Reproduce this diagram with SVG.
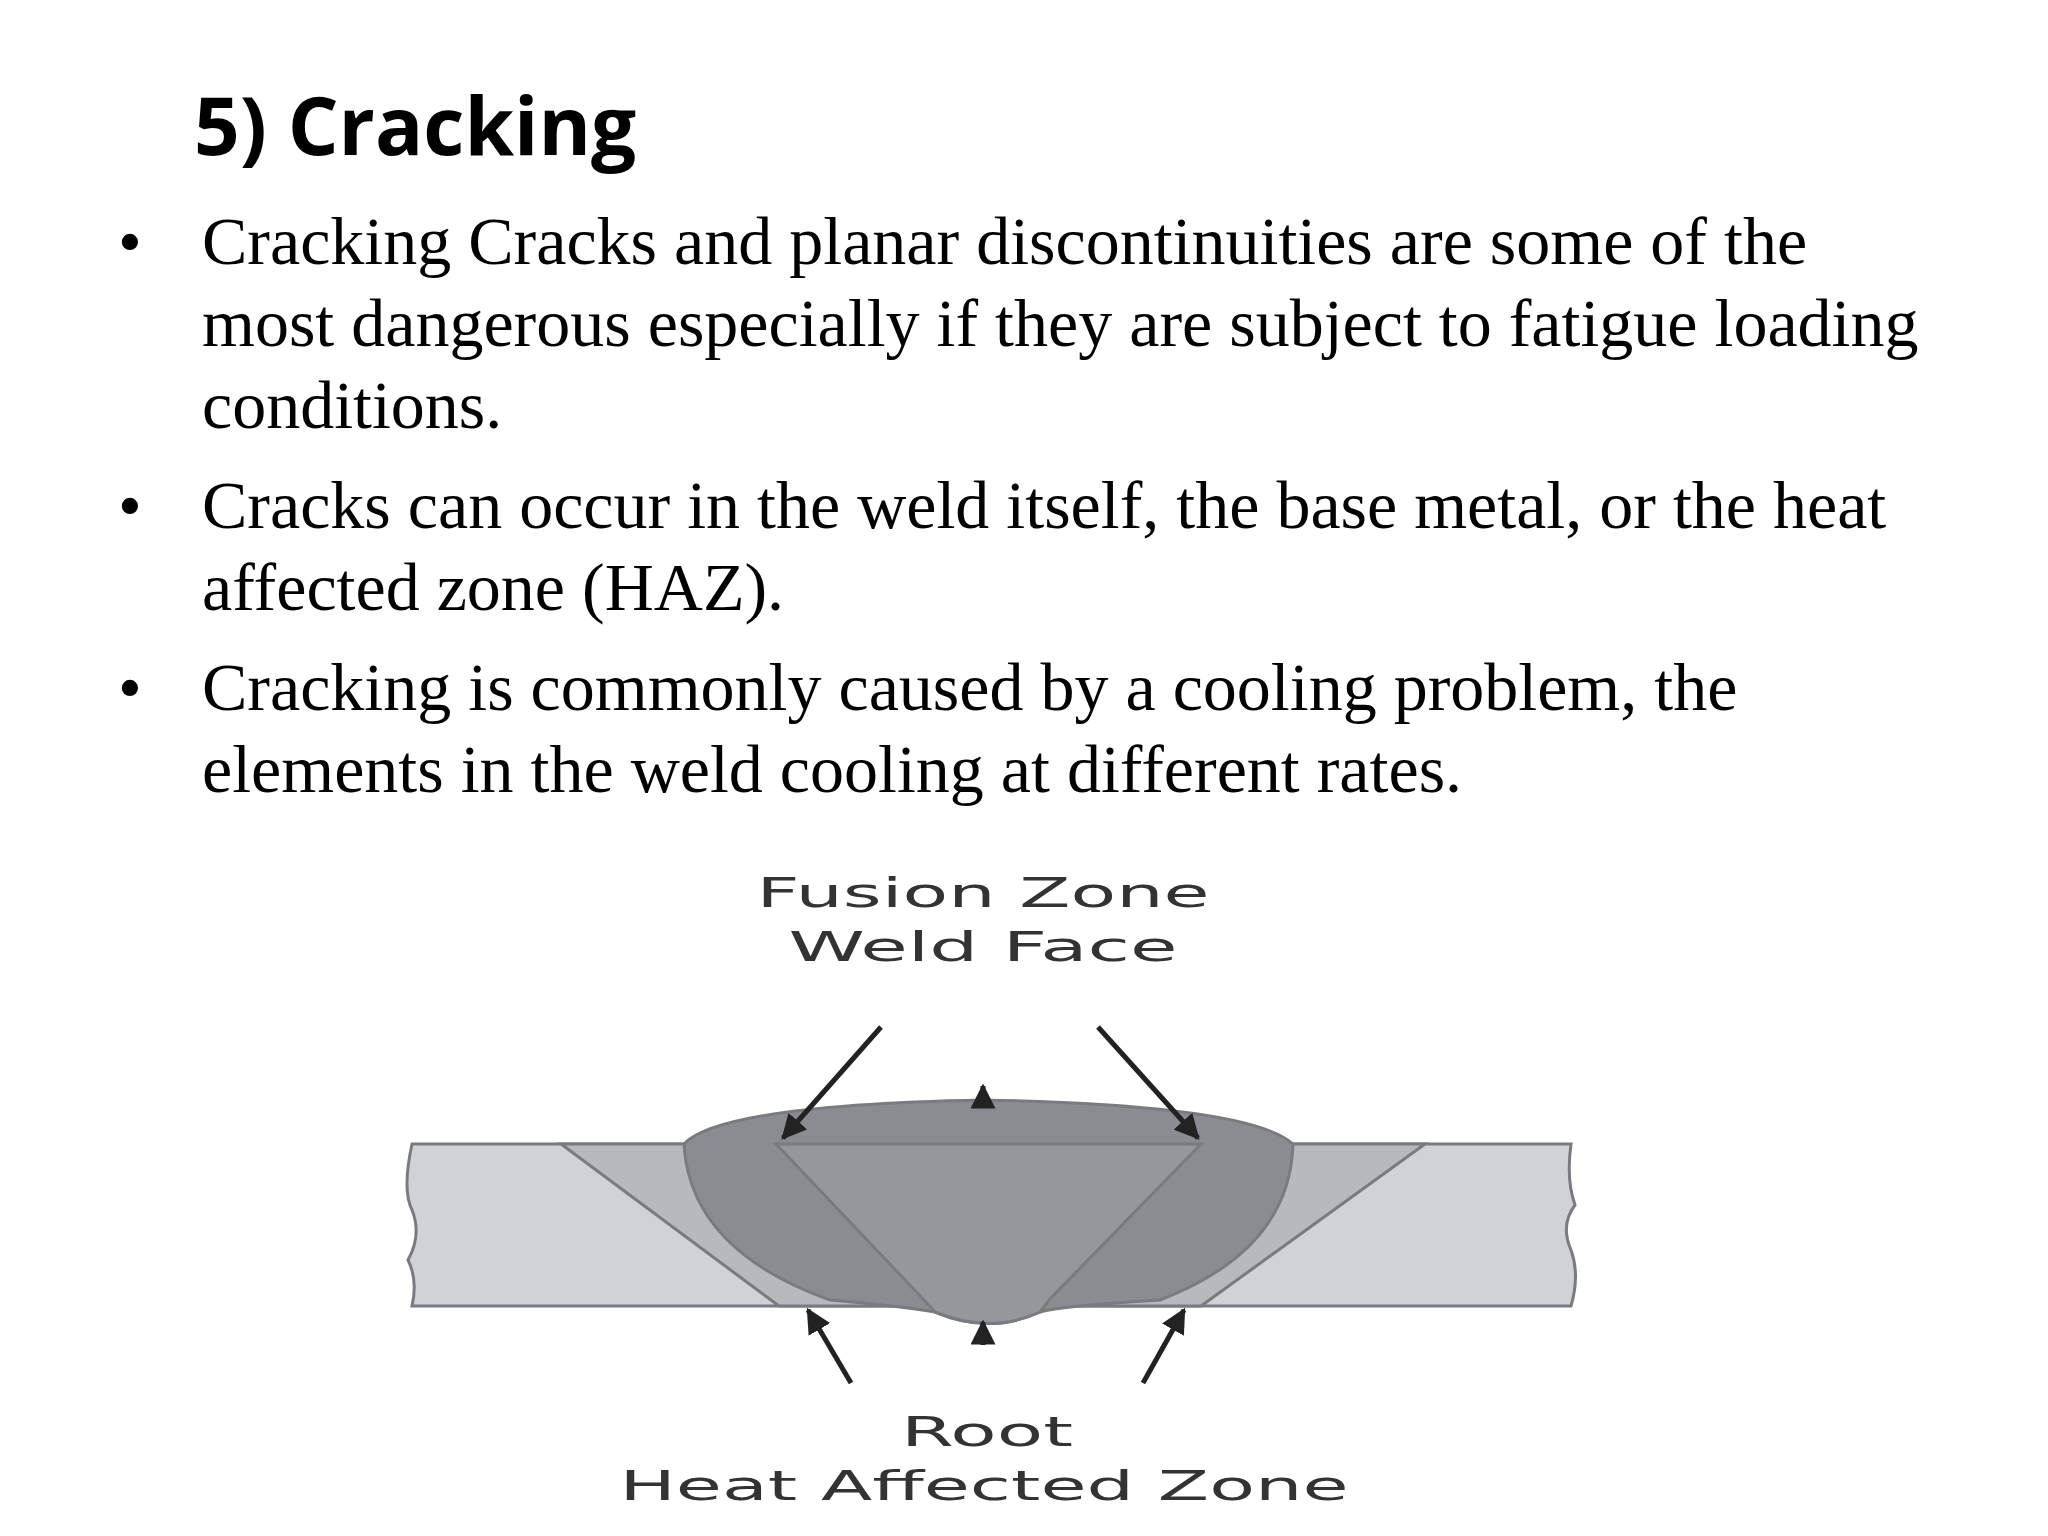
<svg xmlns="http://www.w3.org/2000/svg" width="2048" height="1536" viewBox="0 0 2048 1536">
<defs>
<style>
.t{font-family:"Liberation Serif",serif;font-size:68px;fill:#000}
.l{font-family:"DejaVu Sans",sans-serif;font-size:40px;fill:#333;text-anchor:middle}
.ln{stroke:#222;stroke-width:5;fill:none}
.o{stroke:#7a7b7f;stroke-width:3}
</style>
<marker id="ah" viewBox="0 0 10 10" refX="9" refY="5" markerWidth="5" markerHeight="5" orient="auto"><path d="M0,0L10,5L0,10z" fill="#222"/></marker>
</defs>
<rect width="2048" height="1536" fill="#fff"/>
<g id="title"><text x="194" y="155" font-family="Open Sans,Liberation Sans,sans-serif" font-weight="bold" font-size="80">5) Cracking</text></g>
<g id="bullets">
<text class="t" x="118" y="264">•</text>
<text class="t" x="202" y="264">Cracking Cracks and planar discontinuities are some of the</text>
<text class="t" x="202" y="346">most dangerous especially if they are subject to fatigue loading</text>
<text class="t" x="202" y="428">conditions.</text>
<text class="t" x="118" y="528">•</text>
<text class="t" x="202" y="528">Cracks can occur in the weld itself, the base metal, or the heat</text>
<text class="t" x="202" y="610">affected zone (HAZ).</text>
<text class="t" x="118" y="710">•</text>
<text class="t" x="202" y="710">Cracking is commonly caused by a cooling problem, the</text>
<text class="t" x="202" y="792">elements in the weld cooling at different rates.</text>
</g>
<g id="plate">
<path class="o" d="M412,1144 L1571,1144 Q1566,1180 1575,1205 Q1560,1225 1571,1250 Q1580,1275 1571,1306 L412,1306 Q418,1280 408,1260 Q422,1235 412,1210 Q402,1190 412,1144Z" fill="#d1d2d5"/>
<path class="o" d="M561,1144 L1425,1144 L1201,1306 L779,1306Z" fill="#b8b9bd"/>
<path class="o" d="M684,1144 Q720,1105 983,1100 Q1250,1105 1293,1144 Q1290,1250 1160,1300 Q1060,1306 1040,1312 Q990,1335 935,1312 Q900,1306 830,1300 Q690,1250 684,1144Z" fill="#8b8c91"/>
<path class="o" d="M776,1144 L1201,1144 L1049,1300 Q1045,1306 1040,1312 Q990,1335 935,1312 L924,1300Z" fill="#96979b"/>
</g>
<g id="connectors">
<line class="ln" x1="881" y1="1027" x2="783" y2="1138" marker-end="url(#ah)"/>
<line class="ln" x1="1098" y1="1027" x2="1198" y2="1138" marker-end="url(#ah)"/>
<line class="ln" x1="983" y1="1108" x2="983" y2="1086" marker-end="url(#ah)"/>
<line class="ln" x1="851" y1="1383" x2="808" y2="1310" marker-end="url(#ah)"/>
<line class="ln" x1="983" y1="1345" x2="983" y2="1322" marker-end="url(#ah)"/>
<line class="ln" x1="1143" y1="1383" x2="1184" y2="1310" marker-end="url(#ah)"/>
</g>
<g id="labels">
<text class="l" x="983" y="907" textLength="453" lengthAdjust="spacingAndGlyphs">Fusion Zone</text>
<text class="l" x="983" y="961" textLength="389" lengthAdjust="spacingAndGlyphs">Weld Face</text>
<text class="l" x="987" y="1446" textLength="172" lengthAdjust="spacingAndGlyphs">Root</text>
<text class="l" x="984" y="1500" textLength="729" lengthAdjust="spacingAndGlyphs">Heat Affected Zone</text>
</g>
</svg>
